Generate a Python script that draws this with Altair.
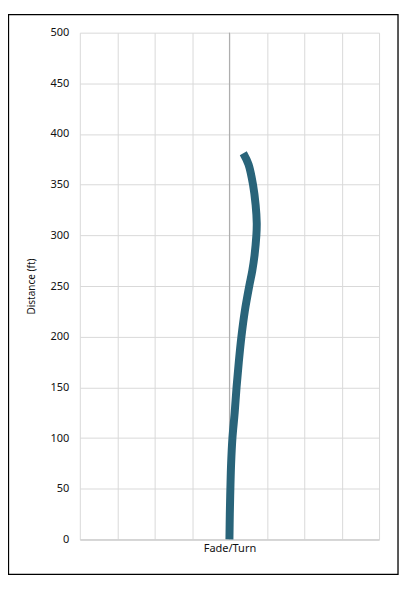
import altair as alt
import pandas as pd

# Flight path
distance_ft = [0, 25, 50, 75, 100, 125, 150, 175, 200, 225, 250, 265, 280, 300, 312, 330, 350, 370, 381]
fade_turn = [0, 0.01, 0.025, 0.045, 0.08, 0.14, 0.19, 0.25, 0.32, 0.41, 0.53, 0.61, 0.67, 0.72, 0.73, 0.70, 0.63, 0.51, 0.37]

y_ticks = list(range(0, 501, 50))
x_grid = [-4, -3, -2, -1, 0, 1, 2, 3, 4]

df = pd.DataFrame({"d": distance_ft, "x": fade_turn})

FONT = "Noto Sans"
W, H = 300, 508
GRID = "#d9d9d9"

x_scale = alt.Scale(domain=[-4, 4], nice=False, zero=False)
y_scale = alt.Scale(domain=[0, 500], nice=False)

x_axis = alt.Axis(
    values=x_grid, labels=False, ticks=False, tickSize=0,
    grid=True, gridColor=GRID, gridWidth=1,
    domain=True, domainColor="#cfcfcf", domainWidth=1.5,
    title="Fade/Turn", titleFont=FONT, titleFontSize=11, titleFontWeight="normal",
    titleColor="#111", titleX=150, titleY=9, titleBaseline="middle", titleAlign="center",
)
y_axis = alt.Axis(
    values=y_ticks, ticks=False, tickSize=0, domain=False,
    grid=True, gridColor=GRID, gridWidth=1,
    labelFont=FONT, labelFontSize=11, labelColor="#111", labelPadding=11,
    title="Distance (ft)", titleFont=FONT, titleFontSize=10, titleFontWeight="normal",
    titleColor="#111", titleAngle=270, titleX=-48, titleY=254,
    titleAlign="center", titleBaseline="middle",
)

center = alt.Chart(alt.Data(values=[{"c": 0}])).mark_rule(
    color="#aaaaaa", strokeWidth=1
).encode(x=alt.X("c:Q", scale=x_scale, axis=x_axis), y=alt.value(0), y2=alt.value(H))

path = alt.Chart(df).mark_line(
    color="#29647a", strokeWidth=8, strokeCap="butt", interpolate="catmull-rom"
).encode(
    x=alt.X("x:Q", scale=x_scale, axis=x_axis),
    y=alt.Y("d:Q", scale=y_scale, axis=y_axis),
    order=alt.Order("d:Q"),
)

border = alt.Chart(alt.Data(values=[{"b": 1}])).mark_rect(
    fill="transparent", stroke="#000", strokeWidth=1.3
).encode(x=alt.value(-71.5), x2=alt.value(319), y=alt.value(-18), y2=alt.value(543))

chart = alt.layer(center, path, border).properties(
    width=W, height=H,
    autosize=alt.AutoSizeParams(type="none"),
    padding={"left": 72, "top": 24, "right": 24, "bottom": 40},
).configure_view(stroke="transparent")

chart.save("out.html", embed_options={"renderer": "svg", "actions": False})
